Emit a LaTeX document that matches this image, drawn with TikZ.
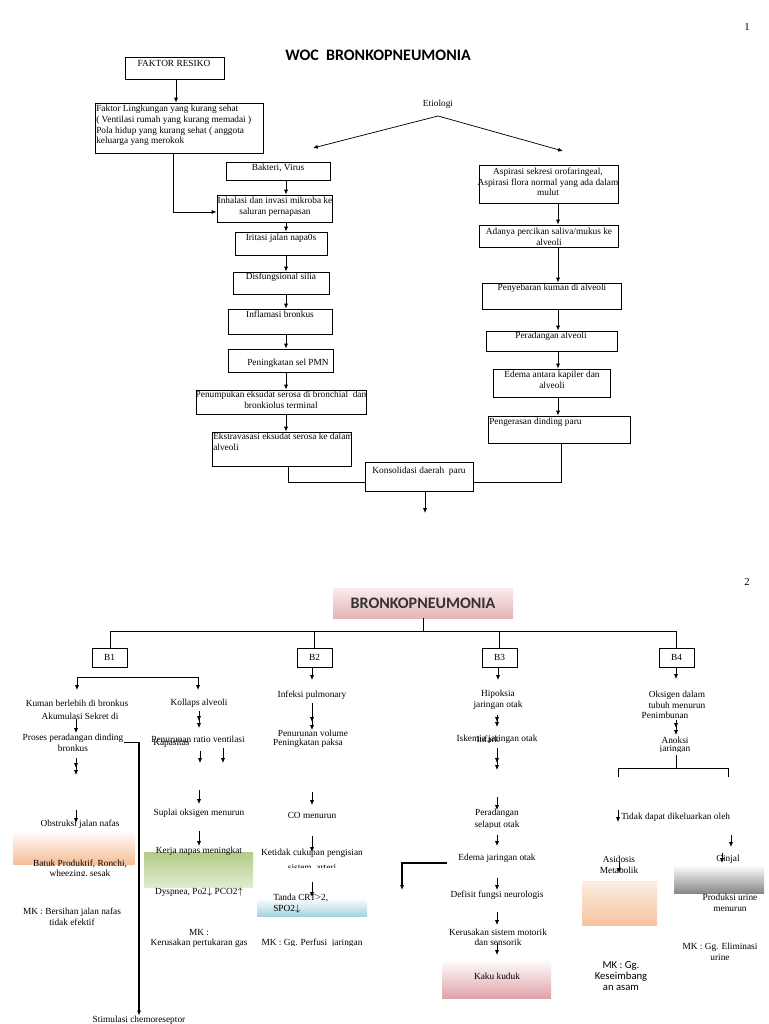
\documentclass[tikz,border=0pt]{standalone}
\usepackage{fontspec}
\setmainfont{Liberation Serif}
\newfontfamily\carl{Carlito}
\usetikzlibrary{arrows.meta,fit,calc}
\definecolor{bpC}{HTML}{E6B3B5}
\definecolor{orC}{HTML}{F6BE98}
\definecolor{grC}{HTML}{B3CC86}
\definecolor{blC}{HTML}{A5D3E0}
\definecolor{pkC}{HTML}{E0A3A9}
\definecolor{gyC}{HTML}{888888}
\definecolor{peC}{HTML}{F6C4A0}
\newcommand\fs{\fontsize{7}{8}\selectfont}
\newcounter{arrc}
\newcommand\vArr[3]{\stepcounter{arrc}\coordinate (v\thearrc a) at (#1,#2);\coordinate (v\thearrc b) at (#1,#3);\draw[arr] (v\thearrc a) -- (v\thearrc b);}
\newcommand\dArr[4]{\vArr{#1}{#2}{#3}\vArr{#1}{#2}{#4}}
\begin{document}
\begin{tikzpicture}[x=0.75pt,y=-0.75pt,
  >={Latex[length=3.6pt,width=3pt]},
  bx/.style={draw,line width=0.7pt,inner sep=0pt},
  t/.style={font=\fs,inner sep=0pt,align=center},
  arr/.style={line width=0.55pt,->},
  ln/.style={line width=0.7pt}]
\useasboundingbox (0,0) rectangle (768,1024);
\fill[white] (0,0) rectangle (768,1024);

% ================= PAGE 1 =================
\node[t,font=\fontsize{8}{9}\selectfont] (pg1) at (747,27) {1};
\node[t,font=\carl\bfseries\fontsize{12}{14}\selectfont] (title) at (378,55) {WOC\ \ BRONKOPNEUMONIA};

\coordinate (cL) at (286,0);
\coordinate (cR) at (558,0);

\node[bx,fit={(125,57)(224,79)}] (fr) {};
\node[t] (frT) at (174,63) {FAKTOR RESIKO};

\node[bx,fit={(95,103)(263,153)}] (fk) {};
\node[t,anchor=north west,align=left] (fkT) at (96,105) {Faktor Lingkungan yang kurang sehat\\( Ventilasi rumah yang kurang memadai )\\Pola hidup yang kurang sehat ( anggota\\keluarga yang merokok};

\node[t] (eti) at (438,104) {Etiologi};
\coordinate (etA) at (438,116);
\coordinate (etL) at (313,148);
\coordinate (etR) at (563,151);

\node[bx,fit={(226,162)(330,180)}] (bak) {};
\node[t] (bakT) at (278,168) {Bakteri, Virus};
\node[bx,fit={(217,195)(332,222)}] (inh) {};
\node[t] (inhT) at (275,207) {Inhalasi dan invasi mikroba ke\\saluran pernapasan};
\node[bx,fit={(235,232)(327,255)}] (iri) {};
\node[t] (iriT) at (281,238) {Iritasi jalan napa0s};
\node[bx,fit={(233,272)(329,294)}] (dis) {};
\node[t] (disT) at (281,277) {Disfungsional silia};
\node[bx,fit={(228,309)(332,334)}] (inf) {};
\node[t] (infT) at (280,314) {Inflamasi bronkus};
\node[bx,fit={(228,349)(333,372)}] (pmn) {};
\node[t] (pmnT) at (288,363) {Peningkatan sel PMN};
\node[bx,fit={(196,390)(366,414)}] (pen) {};
\node[t] (penT) at (281,400) {Penumpukan eksudat serosa di bronchial\ \ dan\\bronkiolus terminal};
\node[bx,fit={(212,432)(351,466)}] (eks) {};
\node[t,anchor=north west,align=left] (eksT) at (213,433) {Ekstravasasi eksudat serosa ke dalam\\alveoli};
\node[bx,fit={(365,462)(473,491)}] (kon) {};
\node[t] (konT) at (419,471) {Konsolidasi daerah\ \ paru};

\node[bx,fit={(479,165)(618,203)}] (asp) {};
\node[t] (aspT) at (548,182) {Aspirasi sekresi orofaringeal,\\Aspirasi flora normal yang ada dalam\\mulut};
\node[bx,fit={(479,225)(618,247)}] (ada) {};
\node[t] (adaT) at (549,237) {Adanya percikan saliva/mukus ke\\alveoli};
\node[bx,fit={(482,283)(621,309)}] (pny) {};
\node[t] (pnyT) at (552,288) {Penyebaran kuman di alveoli};
\node[bx,fit={(486,331)(617,351)}] (prd) {};
\node[t] (prdT) at (551,336) {Peradangan alveoli};
\node[bx,fit={(493,369)(610,397)}] (ede) {};
\node[t] (edeT) at (552,380) {Edema antara kapiler dan\\alveoli};
\node[bx,fit={(488,416)(630,443)}] (ngr) {};
\node[t,anchor=west] (ngrT) at (489,422) {Pengerasan dinding paru};

% connectors page 1
\coordinate (x176) at (176,0);
\coordinate (x173) at (173,0);
\coordinate (x288) at (288,0);
\coordinate (x561) at (561,0);
\coordinate (x425) at (425,0);
\coordinate (y212) at (0,212);
\coordinate (y482) at (0,482);
\coordinate (kout) at (425,513);
\draw[arr] (fr.south -| x176) -- (fk.north -| x176);
\draw[arr] (fk.south -| x173) |- (inh.west |- y212);
\draw[arr] (etA) -- (etL);
\draw[arr] (etA) -- (etR);
\draw[arr] (bak.south -| cL) -- (inh.north -| cL);
\draw[arr] (inh.south -| cL) -- (iri.north -| cL);
\draw[arr] (iri.south -| cL) -- (dis.north -| cL);
\draw[arr] (dis.south -| cL) -- (inf.north -| cL);
\draw[arr] (inf.south -| cL) -- (pmn.north -| cL);
\draw[arr] (pmn.south -| cL) -- (pen.north -| cL);
\draw[arr] (pen.south -| cL) -- (eks.north -| cL);
\draw[arr] (asp.south -| cR) -- (ada.north -| cR);
\draw[arr] (ada.south -| cR) -- (pny.north -| cR);
\draw[arr] (pny.south -| cR) -- (prd.north -| cR);
\draw[arr] (prd.south -| cR) -- (ede.north -| cR);
\draw[arr] (ede.south -| cR) -- (ngr.north -| cR);
\draw[ln] (eks.south -| x288) |- (kon.west |- y482);
\draw[ln] (ngr.south -| x561) |- (kon.east |- y482);
\draw[arr] (kon.south -| x425) -- (kout);

% ================= PAGE 2 =================
\node[t,font=\fontsize{8}{9}\selectfont] (pg2) at (747,582) {2};
\node[inner sep=0pt,minimum width=135pt,minimum height=22.5pt,top color=bpC!25,bottom color=bpC,
  font=\carl\bfseries\fontsize{12}{14}\selectfont,text=black!80] (bp) at (423,603) {BRONKOPNEUMONIA};

\coordinate (busL) at (110,631);
\coordinate (busR) at (676,631);
\node[bx,t,minimum width=26.25pt,minimum height=14.25pt] (b1) at (109.5,657.5) {B1};
\node[bx,t,minimum width=26.25pt,minimum height=14.25pt] (b2) at (314.5,657.5) {B2};
\node[bx,t,minimum width=26.25pt,minimum height=14.25pt] (b3) at (499.5,657.5) {B3};
\node[bx,t,minimum width=26.25pt,minimum height=14.25pt] (b4) at (676.5,657.5) {B4};
\draw[ln] (bp.south) -- (bp.south |- busL);
\draw[ln] (busL) -- (busR);
\draw[ln] (busL) -- (busL |- b1.north);
\draw[ln] (b2.north |- busL) -- (b2.north);
\draw[ln] (b3.north |- busL) -- (b3.north);
\draw[ln] (b4.north |- busL) -- (b4.north);

% shaded panels
\shade[top color=white,bottom color=orC] (13,830) rectangle (135,864);
\shade[top color=grC,bottom color=grC!40] (144,852) rectangle (253,887);
\shade[top color=white,bottom color=blC] (257,898) rectangle (367,916);
\shade[top color=white,bottom color=pkC] (442,959) rectangle (551,998);
\shade[top color=white,bottom color=gyC] (674,865) rectangle (764,893);
\shade[top color=peC!30,bottom color=peC] (582,881) rectangle (657,925);

% ---- B1 ----
\coordinate (k1) at (77,690);
\coordinate (k1t) at (77,677);
\coordinate (k2t) at (198,677);
\coordinate (k2) at (198,690);
\draw[line width=0.55pt,<->] (k1) -- (k1t) -- (k2t) -- (k2);
\node[t] (kuman) at (77,703) {Kuman berlebih di bronkus};
\node[t] (kol) at (199,703) {Kollaps alveoli};
\node[t] (akum) at (80,716) {Akumulasi Sekret di};
\vArr{76}{719}{733}
\node[t] (proses) at (73,742.5) {Proses peradangan dinding\\bronkus};
\node[t] (stim) at (139,1020) {Stimulasi chemoreseptor};
\draw[line width=0.9pt,->] (proses.east) -| (stim.north);
\dArr{76}{758}{768}{775}
\dArr{199}{711}{721}{728}
\node[t] (penrat) at (198,739) {Penurunan ratio ventilasi};
\node[t,anchor=west] (kap) at (153,743) {Kapasitas};
\vArr{200}{751}{763}
\vArr{223}{748}{763}
\vArr{199}{790}{804}
\node[t] (supl) at (199,813) {Suplai oksigen menurun};
\vArr{199}{831}{846}
\node[t] (kerja) at (199,851) {Kerja napas meningkat};
\node[t] (dysp) at (199,892) {Dyspnea, Po2$\downarrow$ PCO2$\uparrow$};
\node[t] (mk2) at (199,938.5) {MK :\\Kerusakan pertukaran gas};
\vArr{76}{810}{823}
\node[t] (obs) at (80,824) {Obstruksi jalan nafas};
\node[t] (batuk) at (80,864) {Batuk Produktif, Ronchi,};
\begin{scope}
\clip (0,866) rectangle (200,875.5);
\node[t] (whz) at (80,874) {wheezing, sesak};
\end{scope}
\node[t] (mk1) at (72,917) {MK : Bersihan jalan nafas\\tidak efektif};

% ---- B2 ----
\vArr{312}{667}{680}
\node[t] (infk) at (312,695) {Infeksi pulmonary};
\dArr{312}{703}{722}{730}
\node[t] (penvol) at (313,733) {Penurunan volume};
\node[t] (penpak) at (308,743) {Peningkatan paksa};
\vArr{312}{792}{805}
\node[t] (co) at (312,815) {CO menurun};
\vArr{312}{836}{852}
\node[t] (ketid) at (312,853) {Ketidak cukupan pengisian};
\begin{scope}
\clip (240,858) rectangle (400,867);
\node[t] (sist) at (312,867) {sistem\ \ arteri};
\end{scope}
\vArr{312}{882}{897}
\node[t,anchor=west] (tanda) at (273,898) {Tanda CRT>2,};
\begin{scope}
\clip (240,902) rectangle (400,913.5);
\node[t,anchor=west] (spo) at (273,909) {SPO2$\downarrow$};
\end{scope}
\begin{scope}
\clip (240,930) rectangle (400,945.5);
\node[t] (mk3) at (312,943) {MK : Gg. Perfusi\ \ jaringan};
\end{scope}

% ---- B3 ----
\vArr{498}{667}{680}
\node[t] (hip) at (498,700) {Hipoksia\\jaringan otak};
\dArr{497}{715}{722}{727}
\node[t] (isk) at (497,739) {Iskemia jaringan otak};
\node[t] (ifk) at (488,739) {Infark};
\dArr{497}{748}{763}{770}
\vArr{497}{797}{810}
\node[t] (perad) at (497,813) {Peradangan};
\begin{scope}
\clip (420,818) rectangle (580,827);
\node[t] (selp) at (497,825) {selaput otak};
\end{scope}
\vArr{497}{835}{846}
\node[t] (edj) at (497,858) {Edema jaringan otak};
\coordinate (e1) at (447,863);
\coordinate (e2) at (402,890);
\draw[line width=0.9pt,->] (e1) -| (e2);
\vArr{497}{878}{890}
\node[t] (def) at (497,895) {Defisit fungsi neurologis};
\vArr{497}{912}{925}
\node[t] (ker) at (498,932) {Kerusakan sistem motorik};
\begin{scope}
\clip (420,937) rectangle (580,944);
\node[t] (sens) at (498,942) {dan sensorik};
\end{scope}
\vArr{497}{943}{955}
\begin{scope}
\clip (440,965) rectangle (560,978);
\node[t] (kaku) at (497,976) {Kaku kuduk};
\end{scope}

% ---- B4 ----
\vArr{676}{667}{679}
\node[t] (oks) at (677,699.5) {Oksigen dalam\\tubuh menurun};
\node[t] (penim) at (665,715) {Penimbunan};
\dArr{676}{720}{728}{735}
\node[t] (anok) at (675,740) {Anoksi};
\begin{scope}
\clip (630,744) rectangle (720,751);
\node[t] (jar) at (675,749) {jaringan};
\end{scope}
\coordinate (s1) at (676,755);
\coordinate (s2) at (676,768);
\coordinate (s3) at (618,777);
\coordinate (s4) at (618,768);
\coordinate (s5) at (728,768);
\coordinate (s6) at (728,777);
\draw[ln] (s1) -- (s2);
\draw[ln] (s3) -- (s4) -- (s5) -- (s6);
\vArr{618}{810}{822}
\node[t,anchor=west] (tidak) at (621,817) {Tidak dapat dikeluarkan oleh};
\vArr{731}{835}{847}
\node[t] (ginj) at (728,859) {Ginjal};
\vArr{722}{853}{863}
\node[t] (prod) at (730,902.5) {Produksi urine\\menurun};
\node[t] (mk4) at (720,947) {MK : Gg. Eliminasi};
\begin{scope}
\clip (680,952) rectangle (760,959);
\node[t] (uri) at (720,957) {urine};
\end{scope}
\node[t] (asid) at (619,864.5) {Asidosis\\Metabolik};
\vArr{619}{862}{873}
\begin{scope}
\clip (570,955) rectangle (680,989);
\node[t,font=\carl\fontsize{8}{8.5}\selectfont] (mk5) at (621,976) {MK : Gg.\\Keseimbang\\an asam};
\end{scope}
\end{tikzpicture}
\end{document}
